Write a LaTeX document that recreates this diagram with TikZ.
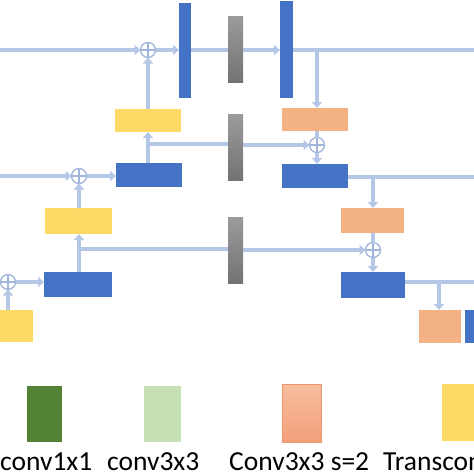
\documentclass[tikz,border=0pt]{standalone}
\usepackage{fontspec}
\setmainfont{Carlito}
\usetikzlibrary{arrows.meta}
\definecolor{cblue}{RGB}{68,114,196}
\definecolor{corange}{RGB}{244,177,131}
\definecolor{cyellow}{RGB}{255,217,102}
\definecolor{cline}{RGB}{180,199,231}
\definecolor{cplus}{RGB}{160,180,220}
\definecolor{cdgreen}{RGB}{84,130,53}
\definecolor{clgreen}{RGB}{197,224,180}
\tikzset{
  blk/.style={draw=none, inner sep=0pt, outer sep=0pt, anchor=north west},
  bluebox/.style={blk, fill=cblue},
  orbox/.style={blk, fill=corange},
  yebox/.style={blk, fill=cyellow},
  graybar/.style={blk, top color={rgb,255:red,155;green,155;blue,155}, bottom color={rgb,255:red,115;green,115;blue,115}, minimum width=15pt, minimum height=66pt},
  plus/.style={circle, draw=cplus, line width=1.3pt, fill=white, minimum size=15pt, inner sep=0pt, outer sep=0pt,
    path picture={\draw[cplus, line width=1.3pt] (path picture bounding box.north) -- (path picture bounding box.south) (path picture bounding box.west) -- (path picture bounding box.east);}},
  conn/.style={draw=cline, line width=4pt},
  arr/.style={conn, -{Triangle[width=10pt,length=6pt]}},
  legtext/.style={anchor=base west, inner sep=0pt, font=\fontsize{27.5}{30}\selectfont, text=black}
}
\begin{document}
\begin{tikzpicture}[x=1pt,y=-1pt]
\useasboundingbox (0,0) rectangle (474,474);
\clip (0,0) rectangle (474,474);
% top level
\node[bluebox, minimum width=12pt, minimum height=95pt] (b1) at (179,3) {};
\node[graybar] (g1) at (228,16) {};
\node[bluebox, minimum width=13pt, minimum height=97pt] (b2) at (280,1) {};
\node[plus] (p1) at (148,50) {};
\coordinate (in1) at (0,50);
\coordinate (out1) at (474,50);
% second level
\node[yebox, minimum width=66pt, minimum height=23pt] (yL1) at (115,109) {};
\node[bluebox, minimum width=66pt, minimum height=24pt] (bL2) at (116,163) {};
\node[graybar] (g2) at (228,114) {};
\node[orbox, minimum width=66pt, minimum height=23pt] (o1) at (282,108) {};
\node[plus] (pR2) at (317,145) {};
\node[bluebox, minimum width=66pt, minimum height=24pt] (bR2) at (282,164) {};
\node[plus] (pL2) at (79,176) {};
\coordinate (in2) at (0,176);
\coordinate (out2) at (474,177);
% third level
\node[yebox, minimum width=67pt, minimum height=26pt] (yL3) at (45,208) {};
\node[bluebox, minimum width=68pt, minimum height=25pt] (bL3) at (44,272) {};
\node[graybar] (g3) at (228,217) {};
\node[orbox, minimum width=63pt, minimum height=25pt] (oR3) at (341,208) {};
\node[plus] (pR3) at (373,250) {};
\node[bluebox, minimum width=64pt, minimum height=26pt] (bR3) at (341,272) {};
\node[plus] (pL3) at (8,282) {};
\coordinate (out3) at (474,282);
% fourth level
\node[yebox, minimum width=35pt, minimum height=32pt] (yL4) at (-2,310) {};
\node[orbox, minimum width=42pt, minimum height=33pt] (oR4) at (419,310) {};
\node[bluebox, minimum width=15pt, minimum height=33pt] (bR4) at (465,310) {};
% connectors top
\draw[arr] (in1) -- (p1);
\draw[arr] (p1) -- (p1 -| b1.west);
\draw[conn] (p1 -| b1.east) -- (p1 -| g1.west);
\draw[arr] (p1 -| g1.east) -- (p1 -| b2.west);
\draw[conn] (p1 -| b2.east) -- (out1);
\coordinate (j1) at (317,50);
\draw[arr] (j1) -- (j1 |- o1.north);
\draw[arr] (yL1.north -| p1) -- (p1);
% second level connectors
\draw[arr] (bL2.north -| p1) -- (yL1.south -| p1);
\coordinate (j2) at (148,144);
\draw[conn] (j2) -- (j2 -| g2.west);
\draw[arr] (pR2 -| g2.east) -- (pR2);
\draw[conn] (o1.south -| pR2) -- (pR2);
\draw[arr] (pR2) -- (bR2.north -| pR2);
\draw[arr] (in2) -- (pL2);
\draw[arr] (pL2) -- (pL2 -| bL2.west);
\draw[arr] (yL3.north -| pL2) -- (pL2);
\draw[conn] (out2 -| bR2.east) -- (out2);
\coordinate (j3) at (373,177);
\draw[arr] (j3) -- (j3 |- oR3.north);
% third level connectors
\draw[arr] (bL3.north -| pL2) -- (yL3.south -| pL2);
\coordinate (j4) at (79,249);
\draw[conn] (j4) -- (j4 -| g3.west);
\draw[arr] (pR3 -| g3.east) -- (pR3);
\draw[conn] (oR3.south -| pR3) -- (pR3);
\draw[arr] (pR3) -- (bR3.north -| pR3);
\draw[arr] (pL3) -- (pL3 -| bL3.west);
\draw[arr] (yL4.north -| pL3) -- (pL3);
\draw[conn] (out3 -| bR3.east) -- (out3);
\coordinate (j5) at (439,282);
\draw[arr] (j5) -- (j5 |- oR4.north);
% legend
\node[blk, fill=cdgreen, minimum width=35pt, minimum height=56pt] (lg1) at (27,386) {};
\node[blk, fill=clgreen, minimum width=37pt, minimum height=56pt] (lg2) at (144,386) {};
\node[blk, draw={rgb,255:red,236;green,150;blue,110}, line width=0.6pt, top color={rgb,255:red,248;green,190;blue,158}, bottom color={rgb,255:red,243;green,160;blue,122}, minimum width=39pt, minimum height=58pt] (lg3) at (282,384) {};
\node[blk, fill=cyellow, minimum width=40pt, minimum height=57pt] (lg4) at (442,384) {};
\node[legtext] (t1) at (0,470) {conv1x1};
\node[legtext] (t2) at (107,470) {conv3x3};
\node[legtext] (t3) at (229,470) {Conv3x3 s=2};
\node[legtext] (t4) at (383,470) {Transconv};
\end{tikzpicture}
\end{document}
